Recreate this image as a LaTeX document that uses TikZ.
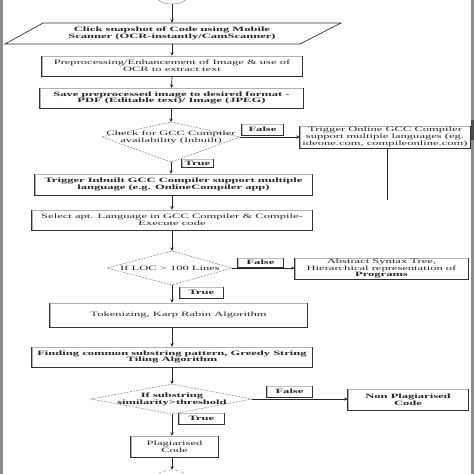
\documentclass[tikz,border=0pt]{standalone}
\usepackage{fontspec}
\setmainfont{Liberation Serif}[FakeStretch=1.9]
\usetikzlibrary{arrows.meta,shapes.geometric}
\begin{document}
\begin{tikzpicture}[x=1pt,y=-1pt,
  txt/.style={font=\fontsize{6.6}{6.8}\selectfont, align=center, inner sep=0pt, text=black!85},
  btxt/.style={txt, font=\fontsize{6.6}{6.8}\selectfont\bfseries},
  pbox/.style={draw=black!30, line width=0.5pt},
  lbl/.style={btxt, draw=black!25, line width=0.5pt},
  edge/.style={draw=black!80, line width=0.7pt},
  dia/.style={draw=black!50, dashed, line width=0.5pt, dash pattern=on 2pt off 1.2pt},
  term/.style={ellipse, draw=black!45, line width=0.5pt, inner sep=0pt},
  arr/.style={draw=black!85, line width=0.7pt, -{Stealth[length=3.5pt,width=3.2pt]}},
  plain/.style={draw=black!85, line width=0.7pt}
]
\useasboundingbox (0,0) rectangle (474,474);
\clip (0,0) rectangle (474,474);
\fill[white] (0,0) rectangle (474,474);
\fill[black!45] (0,0) rectangle (3,474);
\fill[black!45] (471,0) rectangle (474,474);
\fill[black!70] (471,120) rectangle (474,140);

% terminals
\node[term, minimum width=30, minimum height=14] (start) at (172,-3) {};
\node[term, dashed, minimum width=30, minimum height=16] (end) at (172,478) {};

% parallelogram
\draw[edge] (43,23) -- (341,23) -- (300,44) -- (5,44) -- cycle;
\node[btxt, minimum width=290, minimum height=21] (n1) at (172,33.5)
  {Click snapshot of Code using Mobile\\Scanner (OCR-instantly/CamScanner)};

% process boxes
\node[txt, pbox, minimum width=260, minimum height=20] (b2) at (172,66)
  {Preprocessing/Enhancement of Image \& use of\\OCR to extract text};
\node[btxt, pbox, minimum width=263, minimum height=20] (b3) at (171.5,98)
  {Save preprocessed image to desired format -\\PDF (Editable text)/ Image (JPEG)};

% diamond 1
\coordinate (d1n) at (171,122);
\coordinate (d1e) at (240,137);
\coordinate (d1s) at (171,162);
\coordinate (d1w) at (102,137);
\draw[dia] (d1n) -- (d1e) -- (d1s) -- (d1w) -- cycle;
\node[txt] (d1) at (171,137) {Check for GCC Compiler\\availability (Inbuilt)};
\node[lbl, minimum width=41, minimum height=11] (f1) at (262.5,129.5) {False};
\node[txt, pbox, minimum width=170, minimum height=22] (r1) at (385,137)
  {Trigger Online GCC Compiler\\support multiple languages (eg.\\ideone.com, compileonline.com)};
\coordinate (r1end) at (387,200);
\node[lbl, minimum width=31, minimum height=8] (t1) at (197.5,163) {True};

\node[btxt, pbox, minimum width=277, minimum height=21] (b4) at (173.5,184.5)
  {Trigger Inbuilt GCC Compiler support multiple\\language (e.g. OnlineCompiler app)};
\node[txt, pbox, minimum width=280, minimum height=20] (b5) at (172,220)
  {Select apt. Language in GCC Compiler \& Compile-\\Execute code};

% diamond 2
\coordinate (d2n) at (172,251);
\coordinate (d2e) at (232,268);
\coordinate (d2s) at (172,285);
\coordinate (d2w) at (107,268);
\draw[dia] (d2n) -- (d2e) -- (d2s) -- (d2w) -- cycle;
\node[txt] (d2) at (170,268) {If LOC > 100 Lines};
\node[lbl, minimum width=45, minimum height=9] (f2) at (260.5,262.5) {False};
\node[txt, pbox, minimum width=173, minimum height=21] (r2) at (381.5,268.5)
  {Abstract Syntax Tree,\\Hierarchical representation of\\\textbf{Programs}};
\node[lbl, minimum width=43, minimum height=11] (t2) at (201.5,292.5) {True};

\node[txt, pbox, minimum width=257, minimum height=24] (b6) at (178.5,315)
  {Tokenizing, Karp Rabin Algorithm};
\node[btxt, pbox, minimum width=280, minimum height=20] (b7) at (172,357)
  {Finding common substring pattern, Greedy String\\Tiling Algorithm};

% diamond 3
\coordinate (d3n) at (172,384);
\coordinate (d3e) at (252,399);
\coordinate (d3s) at (172,414);
\coordinate (d3w) at (91,399);
\draw[dia] (d3n) -- (d3e) -- (d3s) -- (d3w) -- cycle;
\node[btxt] (d3) at (172,399) {If substring\\similarity>threshold};
\node[lbl, minimum width=45, minimum height=11] (f3) at (289.5,391.5) {False};
\node[btxt, pbox, minimum width=120, minimum height=21] (r3) at (408,399.5)
  {Non Plagiarised\\Code};
\node[lbl, minimum width=45, minimum height=11] (t3) at (201.5,418.5) {True};
\node[txt, pbox, minimum width=87, minimum height=21] (b8) at (174.5,446.5)
  {Plagiarised\\Code};

% darker left, bottom and right edges
\foreach \n in {b2,b3,r1,b4,b5,r2,b6,b7,r3,b8,f1,f2,f3,t1,t2,t3}
  \draw[edge] (\n.north west) -- (\n.south west) -- (\n.south east) -- (\n.north east);

% connectors
\draw[arr] (start.south) -- (n1.north);
\draw[arr] (n1.south) -- (b2.north);
\draw[arr] (b2.south) -- (b3.north);
\draw[arr] (b3.south -| d1n) -- (d1n);
\draw[arr] (d1e) -- (d1e -| r1.west);
\draw[arr] (d1s) -- (d1s |- b4.north);
\draw[plain] (r1.south -| r1end) -- (r1end);
\draw[arr] (b5.north |- b4.south) -- (b5.north);
\draw[arr] (b5.south) -- (d2n);
\draw[arr] (d2e) -- (d2e -| r2.west);
\draw[arr] (d2s) -- (d2s |- b6.north);
\draw[arr] (b7.north |- b6.south) -- (b7.north);
\draw[arr] (b7.south) -- (d3n);
\draw[arr] (d3e) -- (d3e -| r3.west);
\draw[arr] (d3s) -- (d3s |- b8.north);
\draw[arr] (end.north |- b8.south) -- (end.north);
\end{tikzpicture}
\end{document}
